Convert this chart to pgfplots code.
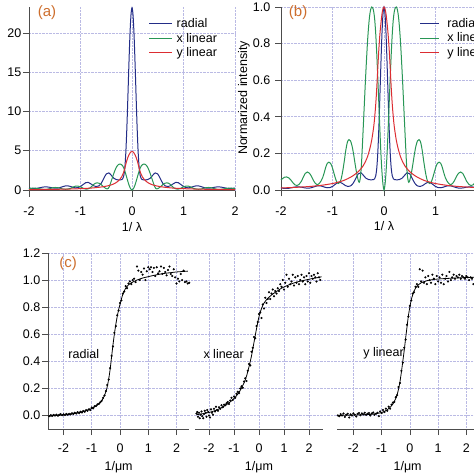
\documentclass[border=0pt]{standalone}
\usepackage{fontspec}
\setmainfont{Liberation Sans}
\usepackage{pgfplots}
\usepackage{pgfplotstable}
\pgfplotsset{compat=1.18}

\definecolor{radialc}{RGB}{35,45,135}
\definecolor{xlinc}{RGB}{40,150,85}
\definecolor{ylinc}{RGB}{220,45,50}
\definecolor{gridc}{RGB}{186,186,228}
\definecolor{tagc}{RGB}{205,110,45}

\newcommand{\lbl}{\fontsize{12.5}{14}\selectfont}
\newcommand{\tagfont}{\fontsize{15}{17}\selectfont}

% normalized intensity profiles, radial polarisation
\pgfplotstableread{
x r
-2.00 0.011
-1.95 0.009
-1.90 0.008
-1.85 0.009
-1.80 0.012
-1.75 0.015
-1.70 0.017
-1.65 0.017
-1.60 0.015
-1.55 0.012
-1.50 0.010
-1.45 0.010
-1.40 0.013
-1.35 0.018
-1.30 0.022
-1.25 0.023
-1.20 0.020
-1.15 0.015
-1.10 0.012
-1.05 0.013
-1.00 0.019
-0.95 0.030
-0.90 0.040
-0.85 0.042
-0.80 0.034
-0.75 0.024
-0.70 0.019
-0.65 0.022
-0.60 0.036
-0.55 0.062
-0.50 0.088
-0.45 0.094
-0.40 0.080
-0.35 0.064
-0.30 0.057
-0.25 0.055
-0.20 0.057
-0.18 0.062
-0.16 0.078
-0.14 0.120
-0.12 0.205
-0.10 0.340
-0.08 0.510
-0.06 0.690
-0.04 0.850
-0.02 0.960
0.00 1.000
0.02 0.960
0.04 0.850
0.06 0.690
0.08 0.510
0.10 0.340
0.12 0.205
0.14 0.120
0.16 0.078
0.18 0.062
0.20 0.057
0.25 0.055
0.30 0.057
0.35 0.064
0.40 0.080
0.45 0.094
0.50 0.088
0.55 0.062
0.60 0.036
0.65 0.022
0.70 0.019
0.75 0.024
0.80 0.034
0.85 0.042
0.90 0.040
0.95 0.030
1.00 0.019
1.05 0.013
1.10 0.012
1.15 0.015
1.20 0.020
1.25 0.023
1.30 0.022
1.35 0.018
1.40 0.013
1.45 0.010
1.50 0.010
1.55 0.012
1.60 0.015
1.65 0.017
1.70 0.017
1.75 0.015
1.80 0.012
1.85 0.009
1.90 0.008
1.95 0.009
2.00 0.011
}\radialtab

% x linear polarisation
\pgfplotstableread{
x g
-2.00 0.055
-1.97 0.062
-1.93 0.070
-1.89 0.071
-1.85 0.066
-1.81 0.055
-1.77 0.040
-1.73 0.028
-1.69 0.024
-1.65 0.030
-1.61 0.045
-1.57 0.068
-1.53 0.090
-1.49 0.098
-1.45 0.092
-1.41 0.075
-1.37 0.052
-1.33 0.035
-1.29 0.028
-1.25 0.038
-1.22 0.050
-1.19 0.068
-1.16 0.095
-1.13 0.125
-1.10 0.146
-1.07 0.152
-1.04 0.146
-1.01 0.128
-0.98 0.100
-0.95 0.070
-0.92 0.045
-0.89 0.035
-0.86 0.040
-0.83 0.062
-0.80 0.105
-0.77 0.160
-0.74 0.220
-0.71 0.262
-0.68 0.275
-0.65 0.268
-0.62 0.240
-0.59 0.195
-0.56 0.140
-0.53 0.090
-0.50 0.052
-0.48 0.042
-0.46 0.065
-0.44 0.130
-0.42 0.240
-0.40 0.360
-0.38 0.480
-0.36 0.600
-0.34 0.710
-0.32 0.810
-0.30 0.890
-0.28 0.950
-0.26 0.985
-0.24 1.000
-0.22 0.996
-0.20 0.975
-0.18 0.930
-0.16 0.850
-0.14 0.740
-0.12 0.610
-0.10 0.470
-0.08 0.330
-0.06 0.200
-0.04 0.100
-0.02 0.030
0.00 0.000
0.02 0.030
0.04 0.100
0.06 0.200
0.08 0.330
0.10 0.470
0.12 0.610
0.14 0.740
0.16 0.850
0.18 0.930
0.20 0.975
0.22 0.996
0.24 1.000
0.26 0.985
0.28 0.950
0.30 0.890
0.32 0.810
0.34 0.710
0.36 0.600
0.38 0.480
0.40 0.360
0.42 0.240
0.44 0.130
0.46 0.065
0.48 0.042
0.50 0.052
0.53 0.090
0.56 0.140
0.59 0.195
0.62 0.240
0.65 0.268
0.68 0.275
0.71 0.262
0.74 0.220
0.77 0.160
0.80 0.105
0.83 0.062
0.86 0.040
0.89 0.035
0.92 0.045
0.95 0.070
0.98 0.100
1.01 0.128
1.04 0.146
1.07 0.152
1.10 0.146
1.13 0.125
1.16 0.095
1.19 0.068
1.22 0.050
1.25 0.038
1.29 0.028
1.33 0.035
1.37 0.052
1.41 0.075
1.45 0.092
1.49 0.098
1.53 0.090
1.57 0.068
1.61 0.045
1.65 0.030
1.69 0.024
1.73 0.028
1.77 0.040
1.81 0.055
1.85 0.066
1.89 0.071
1.93 0.070
1.97 0.062
2.00 0.055
}\xlintab

% y linear polarisation
\pgfplotstableread{
x y
-2.00 0.011
-1.80 0.013
-1.60 0.016
-1.40 0.020
-1.20 0.026
-1.00 0.035
-0.90 0.042
-0.80 0.050
-0.70 0.062
-0.60 0.078
-0.50 0.100
-0.45 0.115
-0.40 0.134
-0.36 0.155
-0.32 0.182
-0.28 0.220
-0.24 0.270
-0.20 0.345
-0.18 0.400
-0.16 0.470
-0.14 0.560
-0.12 0.670
-0.10 0.770
-0.08 0.850
-0.06 0.910
-0.04 0.960
-0.02 0.990
0.00 1.000
0.02 0.990
0.04 0.960
0.06 0.910
0.08 0.850
0.10 0.770
0.12 0.670
0.14 0.560
0.16 0.470
0.18 0.400
0.20 0.345
0.24 0.270
0.28 0.220
0.32 0.182
0.36 0.155
0.40 0.134
0.45 0.115
0.50 0.100
0.60 0.078
0.70 0.062
0.80 0.050
0.90 0.042
1.00 0.035
1.20 0.026
1.40 0.020
1.60 0.016
1.80 0.013
2.00 0.011
}\ylintab

% edge responses: measured points and fitted curves
\pgfplotstableread{
x y
-2.50 -0.005
-2.45 0.002
-2.40 -0.003
-2.35 0.004
-2.30 0.000
-2.25 0.006
-2.20 -0.002
-2.15 0.005
-2.10 0.010
-2.05 0.002
-2.00 0.008
-1.95 0.003
-1.90 0.011
-1.85 0.006
-1.80 0.012
-1.75 0.008
-1.70 0.016
-1.65 0.012
-1.60 0.020
-1.55 0.014
-1.50 0.024
-1.45 0.017
-1.40 0.028
-1.35 0.022
-1.30 0.033
-1.25 0.027
-1.20 0.040
-1.15 0.035
-1.10 0.046
-1.05 0.040
-1.00 0.058
-0.95 0.052
-0.90 0.068
-0.85 0.070
-0.80 0.082
-0.75 0.086
-0.70 0.098
-0.65 0.108
-0.60 0.130
-0.55 0.148
-0.50 0.180
-0.45 0.225
-0.40 0.265
-0.35 0.350
-0.30 0.440
-0.25 0.510
-0.20 0.610
-0.15 0.660
-0.10 0.740
-0.05 0.775
0.00 0.830
0.05 0.850
0.10 0.900
0.15 0.915
0.20 0.955
0.25 0.940
0.30 0.975
0.35 0.990
0.40 0.970
0.45 1.000
0.50 1.010
0.55 0.985
0.60 1.100
0.65 1.070
0.70 1.000
0.75 1.060
0.80 1.040
0.85 1.085
0.90 1.000
0.95 1.065
1.00 1.095
1.05 1.080
1.10 1.095
1.15 1.060
1.20 1.090
1.25 1.030
1.30 1.095
1.35 1.050
1.40 1.065
1.45 1.100
1.50 1.045
1.55 1.090
1.60 1.060
1.65 1.035
1.70 1.075
1.75 1.100
1.80 1.045
1.85 1.030
1.90 1.080
1.95 1.020
2.00 0.975
2.05 1.010
2.10 0.990
2.15 1.045
2.20 1.000
2.25 1.070
2.30 0.985
2.35 0.990
2.40 0.975
2.45 0.980
}\radpts

\pgfplotstableread{
x y
-2.55 -0.005
-2.20 0.000
-2.00 0.003
-1.80 0.008
-1.60 0.015
-1.40 0.024
-1.20 0.036
-1.00 0.052
-0.90 0.063
-0.80 0.077
-0.70 0.095
-0.60 0.125
-0.50 0.175
-0.45 0.215
-0.40 0.270
-0.35 0.340
-0.30 0.430
-0.25 0.520
-0.20 0.600
-0.15 0.670
-0.10 0.730
-0.05 0.780
0.00 0.820
0.05 0.860
0.10 0.895
0.15 0.920
0.20 0.940
0.30 0.965
0.40 0.980
0.60 1.000
0.80 1.015
1.00 1.025
1.20 1.035
1.40 1.043
1.60 1.050
1.80 1.055
2.00 1.060
2.20 1.063
2.40 1.066
}\radfit

\pgfplotstableread{
x y
-2.50 0.015
-2.47 0.025
-2.44 -0.010
-2.40 0.020
-2.37 -0.020
-2.33 0.005
-2.30 0.030
-2.27 -0.005
-2.23 -0.020
-2.20 0.010
-2.17 0.035
-2.13 0.020
-2.10 -0.010
-2.07 0.040
-2.03 0.025
-2.00 0.000
-1.96 -0.015
-1.92 0.045
-1.88 0.020
-1.84 0.005
-1.80 0.050
-1.76 0.030
-1.72 0.065
-1.68 0.040
-1.64 0.035
-1.60 0.060
-1.55 0.050
-1.50 0.075
-1.45 0.060
-1.40 0.080
-1.35 0.075
-1.30 0.090
-1.25 0.100
-1.20 0.085
-1.15 0.110
-1.10 0.130
-1.05 0.115
-1.00 0.140
-0.95 0.130
-0.90 0.160
-0.85 0.175
-0.80 0.165
-0.75 0.200
-0.70 0.215
-0.65 0.205
-0.60 0.250
-0.55 0.275
-0.50 0.255
-0.45 0.330
-0.40 0.380
-0.35 0.370
-0.30 0.470
-0.25 0.500
-0.20 0.580
-0.15 0.570
-0.10 0.660
-0.05 0.690
0.00 0.750
0.05 0.760
0.10 0.720
0.15 0.820
0.20 0.790
0.25 0.870
0.30 0.830
0.35 0.860
0.40 0.910
0.45 0.860
0.50 0.900
0.55 0.930
0.60 0.880
0.65 0.920
0.70 0.900
0.75 0.940
0.80 0.920
0.85 0.970
0.90 0.950
0.95 1.000
1.00 0.930
1.05 0.980
1.10 1.040
1.15 0.950
1.20 1.010
1.25 0.970
1.30 0.990
1.35 1.040
1.40 0.960
1.45 1.020
1.50 0.980
1.55 1.030
1.60 0.970
1.65 1.000
1.70 1.040
1.75 0.990
1.80 1.020
1.85 0.970
1.90 1.030
1.95 0.990
2.00 1.050
2.05 0.980
2.10 1.030
2.15 1.010
2.20 1.040
2.25 1.020
2.30 0.990
2.35 1.050
2.40 1.020
2.45 1.000
}\xpts

\pgfplotstableread{
x y
-2.50 0.005
-2.20 0.015
-2.00 0.022
-1.80 0.033
-1.60 0.048
-1.40 0.068
-1.20 0.093
-1.00 0.125
-0.80 0.170
-0.60 0.240
-0.50 0.290
-0.40 0.360
-0.30 0.440
-0.20 0.540
-0.10 0.640
0.00 0.730
0.10 0.790
0.20 0.830
0.30 0.855
0.50 0.890
0.70 0.915
0.90 0.940
1.20 0.965
1.50 0.985
1.80 0.998
2.10 1.010
2.40 1.020
2.50 1.025
}\xfit

\pgfplotstableread{
x y
-2.55 0.000
-2.50 -0.005
-2.45 0.010
-2.40 0.000
-2.35 0.015
-2.30 -0.010
-2.25 0.005
-2.20 0.012
-2.15 -0.015
-2.10 0.008
-2.05 0.000
-2.00 0.015
-1.95 0.005
-1.90 -0.008
-1.85 0.012
-1.80 0.018
-1.75 0.002
-1.70 0.015
-1.65 0.008
-1.60 0.020
-1.55 0.004
-1.50 0.012
-1.45 0.018
-1.40 0.000
-1.35 0.015
-1.30 0.022
-1.25 0.005
-1.20 0.012
-1.15 0.020
-1.10 -0.005
-1.05 0.030
-1.00 0.018
-0.95 0.040
-0.90 0.025
-0.85 0.050
-0.80 0.035
-0.75 0.065
-0.70 0.050
-0.65 0.080
-0.60 0.095
-0.55 0.100
-0.50 0.135
-0.45 0.150
-0.40 0.210
-0.35 0.240
-0.30 0.330
-0.25 0.390
-0.20 0.500
-0.15 0.560
-0.10 0.670
-0.05 0.730
0.00 0.810
0.05 0.850
0.10 0.900
0.15 0.910
0.20 0.950
0.25 0.970
0.30 0.950
0.35 1.080
0.40 0.990
0.45 1.070
0.50 0.980
0.55 1.020
0.60 0.970
0.65 1.030
0.70 1.000
0.75 0.980
0.80 1.040
0.85 1.010
0.90 0.970
0.95 1.030
1.00 0.990
1.05 1.020
1.10 0.980
1.15 1.040
1.20 0.970
1.25 1.010
1.30 1.030
1.35 0.990
1.40 1.060
1.45 1.000
1.50 1.020
1.55 1.040
1.60 1.010
1.65 1.030
1.70 1.020
1.75 1.040
1.80 1.010
1.85 1.030
1.90 1.020
1.95 1.010
2.00 1.030
2.05 1.020
2.10 1.000
2.15 1.020
2.20 1.010
2.25 0.970
2.30 1.020
2.35 1.010
}\ypts

\pgfplotstableread{
x y
-2.55 0.000
-2.00 0.003
-1.60 0.006
-1.40 0.008
-1.20 0.013
-1.00 0.022
-0.90 0.030
-0.80 0.042
-0.70 0.060
-0.60 0.085
-0.50 0.125
-0.45 0.155
-0.40 0.195
-0.35 0.250
-0.30 0.320
-0.25 0.400
-0.20 0.480
-0.15 0.570
-0.10 0.655
-0.05 0.740
0.00 0.800
0.05 0.855
0.10 0.890
0.15 0.920
0.20 0.940
0.30 0.965
0.40 0.980
0.60 0.995
0.80 1.003
1.00 1.008
1.40 1.013
1.80 1.017
2.20 1.020
2.45 1.022
}\yfit

\pgfplotsset{
  igor/.style={
    scale only axis,
    axis line style={-, black!70, line width=0.6pt},
    tick align=outside,
    major tick length=6pt,
    tick style={black!70, line width=0.6pt},
    major grid style={gridc, densely dotted, line width=0.6pt},
    /pgf/number format/assume math mode=true,
    tick label style={font=\lbl, inner sep=1.5pt},
    label style={font=\lbl},
    clip=false,
  },
  onedec/.style={
    yticklabel style={/pgf/number format/fixed,
      /pgf/number format/fixed zerofill,
      /pgf/number format/precision=1},
  },
  profile/.style={
    igor, axis lines*=left, grid=major,
    xmin=-2, xmax=2, xtick={-2,-1,0,1,2},
    width=206pt,
    xticklabel style={yshift=-8.5pt},
    xlabel={1/ λ},
    xlabel style={at={(axis description cs:0.5,-0.196)}, anchor=center},
    legend style={draw=none, fill=none, font=\lbl,
      row sep=0pt, column sep=2pt, inner sep=0pt},
    legend cell align=left,
  },
  edge/.style={
    igor, axis x line*=bottom, axis y line=none, xmajorgrids,
    ymin=-0.1, ymax=1.2, height=176pt,
    xtick={-2,-1,0,1,2},
    xticklabel style={yshift=-7pt},
    xlabel={1/μm},
    xlabel style={at={(axis description cs:0.5,-0.216)}, anchor=center},
  },
}

\begin{document}
\begin{tikzpicture}
\useasboundingbox (0pt,0pt) rectangle (474pt,474pt);
\clip (0pt,0pt) rectangle (474pt,474pt);

% (a) absolute intensity
\begin{axis}[profile, at={(29pt,283.2pt)}, anchor=south west,
  height=183.8pt, ymin=-0.1, ymax=23.3, ytick={0,5,10,15,20},
  legend image post style={xscale=1.35},
  legend style={at={(rel axis cs:0.58,0.95)}, anchor=north west}]
\addplot[radialc, line width=1pt, smooth] table[x=x, y expr=\thisrow{r}*23.2] {\radialtab};
\addplot[xlinc, line width=1pt, smooth] table[x=x, y expr=\thisrow{g}*3.3] {\xlintab};
\addplot[ylinc, line width=1pt, smooth] table[x=x, y expr=\thisrow{y}*4.9] {\ylintab};
\legend{radial, x linear, y linear}
\node[text=tagc, font=\tagfont] at (rel axis cs:0.087,0.967) {(a)};
\end{axis}

% (b) normalized intensity
\begin{axis}[profile, onedec, at={(281pt,283.5pt)}, anchor=south west,
  height=183.5pt, ymin=-0.003, ymax=1.0, ytick={0,0.2,0.4,0.6,0.8,1.0},
  yticklabel style={xshift=-3pt},
  ylabel={Normarized intensity},
  ylabel style={at={(rel axis cs:-0.18,0.504)}, anchor=center},
  legend image post style={xscale=1.1},
  legend style={at={(rel axis cs:0.672,0.95)}, anchor=north west, column sep=6pt}]
\addplot[radialc, line width=1pt, smooth] table[x=x, y=r] {\radialtab};
\addplot[xlinc, line width=1pt, smooth] table[x=x, y=g] {\xlintab};
\addplot[ylinc, line width=1pt, smooth] table[x=x, y=y] {\ylintab};
\legend{radial, x linear, y linear}
\node[text=tagc, font=\tagfont] at (rel axis cs:0.083,0.967) {(b)};
\end{axis}

% (c) shared vertical scale with horizontal grid
\begin{axis}[igor, onedec, at={(48pt,45pt)}, anchor=south west,
  width=430pt, height=176pt, xmin=0, xmax=1, ymin=-0.1, ymax=1.2,
  axis y line*=left, axis x line=none, ymajorgrids,
  ytick={0,0.2,0.4,0.6,0.8,1.0,1.2}]
\addplot[draw=none] coordinates {(0,0)};
\node[text=tagc, font=\tagfont] at (axis cs:0.047,1.12) {(c)};
\end{axis}

\begin{axis}[edge, at={(48pt,45pt)}, anchor=south west,
  width=141.2pt, xmin=-2.55, xmax=2.45]
\addplot[black, line width=0.8pt, smooth] table {\radfit};
\addplot[only marks, mark=*, mark size=0.85pt, black] table {\radpts};
\node[font=\lbl, anchor=west] at (axis cs:-1.95,0.457) {radial};
\end{axis}

\begin{axis}[edge, at={(195pt,45pt)}, anchor=south west,
  width=128pt, xmin=-2.56, xmax=2.56]
\addplot[black, line width=0.8pt, smooth] table {\xfit};
\addplot[only marks, mark=*, mark size=0.85pt, black] table {\xpts};
\node[font=\lbl, anchor=west] at (axis cs:-2.36,0.457) {x linear};
\end{axis}

\begin{axis}[edge, at={(337pt,45pt)}, anchor=south west,
  width=141.2pt, xmin=-2.58, xmax=2.42]
\addplot[black, line width=0.8pt, smooth] table {\yfit};
\addplot[only marks, mark=*, mark size=0.85pt, black] table {\ypts};
\node[font=\lbl, anchor=west] at (axis cs:-1.77,0.457) {y linear};
\end{axis}
\end{tikzpicture}
\end{document}
